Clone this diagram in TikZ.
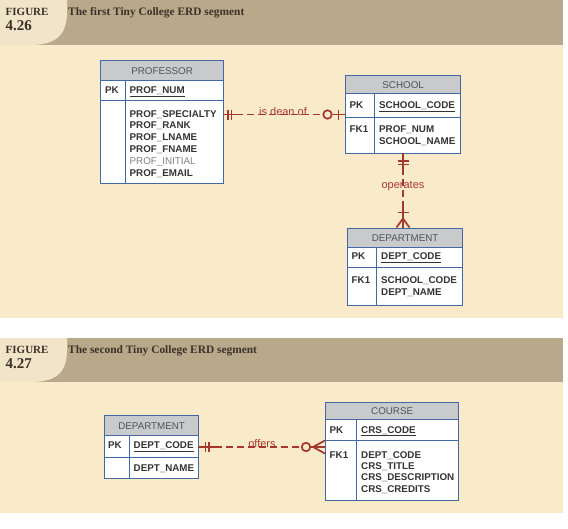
\documentclass[tikz,border=0pt]{standalone}
\usepackage{fontspec}
\setmainfont{Liberation Serif}
\setsansfont{Liberation Sans}
\definecolor{cream}{HTML}{F9EACA}
\definecolor{tanhdr}{HTML}{B8A98A}
\definecolor{lighthdr}{HTML}{F0E4C9}
\definecolor{hdrtext}{HTML}{3B3128}
\definecolor{tblblue}{HTML}{4268A6}
\definecolor{ttlgray}{HTML}{C9CACC}
\definecolor{tbltext}{HTML}{333333}
\definecolor{relred}{HTML}{A5382E}
\definecolor{optgray}{HTML}{808080}
\begin{document}
\begin{tikzpicture}[x=1pt,y=-1pt,
 cell/.style={draw=tblblue, line width=1.3pt, fill=white, inner sep=0pt, anchor=north west},
 ttl/.style={cell, fill=ttlgray, font=\fontsize{9.8}{11}\selectfont\sffamily, text=tbltext!85},
 key/.style={anchor=base west, inner sep=0pt, font=\fontsize{9.8}{11}\selectfont\sffamily\bfseries, text=tbltext},
 rel/.style={draw=relred, line width=1.7pt},
 reldash/.style={rel, dash pattern=on 7pt off 4pt},
 bar/.style={draw=relred, line width=1.6pt},
 rlab/.style={text=relred, font=\fontsize{11}{12}\selectfont\sffamily, inner sep=0pt, anchor=base},
 ring/.style={circle, draw=relred, line width=1.7pt, minimum size=8.5pt, inner sep=0pt, fill=cream},
 figword/.style={anchor=base west, inner sep=0pt, text=hdrtext, font=\fontsize{11}{12}\selectfont\bfseries},
 fignum/.style={anchor=base west, inner sep=0pt, text=hdrtext, font=\fontsize{15}{16}\selectfont\bfseries},
 figtitle/.style={anchor=base west, inner sep=0pt, text=hdrtext, font=\fontsize{11.4}{13}\selectfont\bfseries}
]
\useasboundingbox (0,0) rectangle (568,528);
\fill[white] (0,0) rectangle (568,528);
% ---------- panel 1 ----------
\fill[tanhdr] (0,0) rectangle (563,45);
\fill[lighthdr] (0,0) -- (67,0) -- (67,12) .. controls (67,36) and (55,45) .. (30,45) -- (0,45) -- cycle;
\fill[cream] (0,45) rectangle (563,318);
\node[figword] (f1a) at (5.5,15.5) {FIGURE};
\node[fignum] (f1b) at (5.5,30) {4.26};
\node[figtitle] (f1t) at (68,15) {The first Tiny College ERD segment};
% ---------- panel 2 ----------
\fill[tanhdr] (0,338) rectangle (563,382);
\fill[lighthdr] (0,338) -- (67,338) -- (67,350) .. controls (67,374) and (55,382) .. (30,382) -- (0,382) -- cycle;
\fill[cream] (0,382) rectangle (563,513);
\node[figword] (f2a) at (5.5,353.5) {FIGURE};
\node[fignum] (f2b) at (5.5,368) {4.27};
\node[figtitle] (f2t) at (68,353) {The second Tiny College ERD segment};

% ---------- PROFESSOR ----------
\node[ttl, minimum width=123pt, minimum height=20pt] (profT) at (100,60) {PROFESSOR};
\node[cell, minimum width=25pt, minimum height=19.5pt] (profPKk) at (100,80) {};
\node[cell, minimum width=98pt, minimum height=19.5pt] (profPKa) at (125,80) {};
\node[cell, minimum width=25pt, minimum height=83.5pt] (profBk) at (100,99.5) {};
\node[cell, minimum width=98pt, minimum height=83.5pt] (profBa) at (125,99.5) {};
\node[key] (profPK) at (105,93.2) {PK};
\node[key] (profNum) at (129.5,93.2) {\underline{PROF\_NUM}};
\foreach \t [count=\i] in {PROF\_SPECIALTY,PROF\_RANK,PROF\_LNAME,PROF\_FNAME,{\mdseries\color{optgray}PROF\_INITIAL},PROF\_EMAIL}
  \node[key] (profA\i) at (129.5,{117+11.8*(\i-1)}) {\t};

% ---------- SCHOOL ----------
\node[ttl, minimum width=115pt, minimum height=18pt] (schT) at (345,75) {SCHOOL};
\node[cell, minimum width=29pt, minimum height=24pt] (schPKk) at (345,93) {};
\node[cell, minimum width=86pt, minimum height=24pt] (schPKa) at (374,93) {};
\node[cell, minimum width=29pt, minimum height=36pt] (schBk) at (345,117) {};
\node[cell, minimum width=86pt, minimum height=36pt] (schBa) at (374,117) {};
\node[key] (schPK) at (349.5,108.7) {PK};
\node[key] (schCode) at (379,108.7) {\underline{SCHOOL\_CODE}};
\node[key] (schFK) at (349.5,132) {FK1};
\node[key] (schA1) at (379,132) {PROF\_NUM};
\node[key] (schA2) at (379,144.2) {SCHOOL\_NAME};

% ---------- DEPARTMENT (4.26) ----------
\node[ttl, minimum width=115pt, minimum height=19.5pt] (depT) at (347,227.5) {DEPARTMENT};
\node[cell, minimum width=29pt, minimum height=20pt] (depPKk) at (347,247) {};
\node[cell, minimum width=86pt, minimum height=20pt] (depPKa) at (376,247) {};
\node[cell, minimum width=29pt, minimum height=38pt] (depBk) at (347,267) {};
\node[cell, minimum width=86pt, minimum height=38pt] (depBa) at (376,267) {};
\node[key] (depPK) at (351.5,259.8) {PK};
\node[key] (depCode) at (381,259.8) {\underline{DEPT\_CODE}};
\node[key] (depFK) at (351.5,283) {FK1};
\node[key] (depA1) at (381,283) {SCHOOL\_CODE};
\node[key] (depA2) at (381,295.2) {DEPT\_NAME};

% ---------- DEPARTMENT (4.27) ----------
\node[ttl, minimum width=94pt, minimum height=20pt] (dp2T) at (104,415) {DEPARTMENT};
\node[cell, minimum width=25pt, minimum height=22pt] (dp2PKk) at (104,435) {};
\node[cell, minimum width=69pt, minimum height=22pt] (dp2PKa) at (129,435) {};
\node[cell, minimum width=25pt, minimum height=21pt] (dp2Bk) at (104,457) {};
\node[cell, minimum width=69pt, minimum height=21pt] (dp2Ba) at (129,457) {};
\node[key] (dp2PK) at (108,448.8) {PK};
\node[key] (dp2Code) at (133.5,448.8) {\underline{DEPT\_CODE}};
\node[key] (dp2A1) at (133.5,471.2) {DEPT\_NAME};

% ---------- COURSE ----------
\node[ttl, minimum width=133pt, minimum height=16.5pt] (crsT) at (325,402) {COURSE};
\node[cell, minimum width=31pt, minimum height=21.5pt] (crsPKk) at (325,418.5) {};
\node[cell, minimum width=102pt, minimum height=21.5pt] (crsPKa) at (356,418.5) {};
\node[cell, minimum width=31pt, minimum height=60pt] (crsBk) at (325,440) {};
\node[cell, minimum width=102pt, minimum height=60pt] (crsBa) at (356,440) {};
\node[key] (crsPK) at (329.5,433) {PK};
\node[key] (crsCode) at (361,433) {\underline{CRS\_CODE}};
\node[key] (crsFK) at (329.5,458) {FK1};
\foreach \t [count=\i] in {DEPT\_CODE,CRS\_TITLE,CRS\_DESCRIPTION,CRS\_CREDITS}
  \node[key] (crsA\i) at (361,{458+11.35*(\i-1)}) {\t};

% ---------- is dean of ----------
\coordinate (d1a) at (223,114.5);
\coordinate (d1s) at (236,114.5);
\coordinate (d1b) at (345,114.5);
\node[ring] (d1o) at (327.5,114.5) {};
\draw[reldash] (d1s) -- (d1o.west);
\draw[rel] (d1a) -- (d1s);
\draw[rel] (d1o.east) -- (d1b);
\draw[bar] (228,109.5) -- (228,119.5) (231.5,109.5) -- (231.5,119.5);
\draw[bar] (338.5,109.5) -- (338.5,119.5);
\node[rlab] (d1l) at (283,115) {is dean of};

% ---------- operates ----------
\coordinate (o1a) at (403,153);
\coordinate (o1s) at (403,168);
\coordinate (o1t) at (403,206);
\coordinate (o1f) at (403,218.5);
\coordinate (o1b) at (403,227.5);
\draw[rel] (o1a) -- (o1s);
\draw[reldash] (o1s) -- (o1t);
\draw[rel] (o1t) -- (o1b);
\draw[bar] (397.5,161) -- (408.5,161) (397.5,164.5) -- (408.5,164.5);
\draw[bar] (397.5,212.5) -- (408.5,212.5);
\draw[rel] (396.5,227.5) -- (o1f) -- (409.5,227.5);
\node[rlab] (o1l) at (403,188) {operates};

% ---------- offers ----------
\coordinate (of1a) at (198,447);
\coordinate (of1s) at (215,447);
\coordinate (of1f) at (313,447);
\coordinate (of1b) at (325,447);
\node[ring] (of1o) at (306,447) {};
\draw[reldash] (of1s) -- (of1o.west);
\draw[rel] (of1a) -- (of1s);
\draw[rel] (of1o.east) -- (of1b);
\draw[bar] (205.5,442) -- (205.5,452) (209,442) -- (209,452);
\draw[rel] (325,440.5) -- (of1f) -- (325,453.5);
\node[rlab] (of1l) at (262,447.5) {offers};
\end{tikzpicture}
\end{document}
